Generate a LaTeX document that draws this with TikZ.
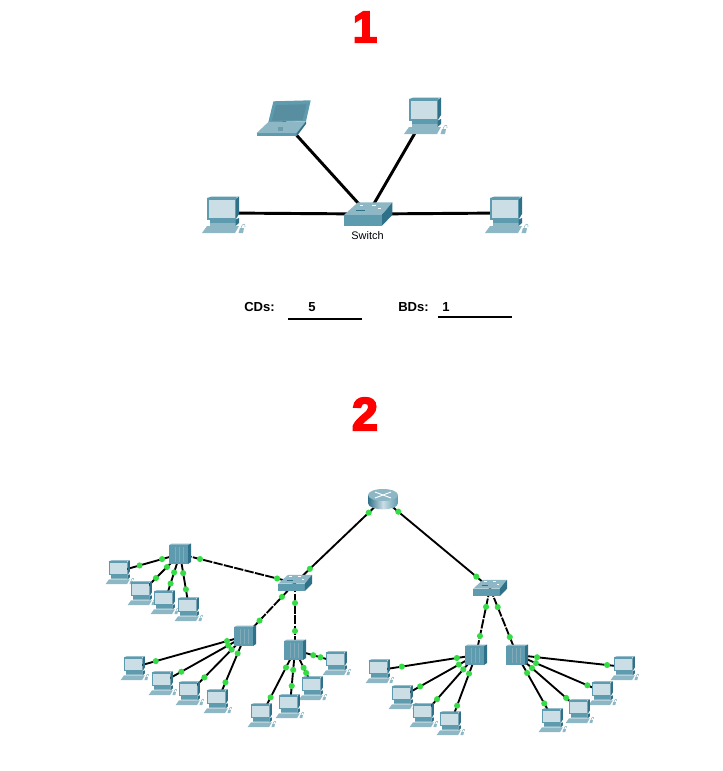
\documentclass[tikz,border=0pt]{standalone}
\usepackage{fontspec}
\setmainfont{Liberation Sans}
\newfontfamily\bignum[UprightFont=* Bold, FakeBold=4]{Liberation Sans}
\usetikzlibrary{calc, backgrounds}
\definecolor{tealmid}{HTML}{5F9BAE}
\definecolor{tealdark}{HTML}{2F7188}
\definecolor{teallite}{HTML}{8DB7C5}
\definecolor{screenlite}{HTML}{CBDDE5}
\definecolor{lampgreen}{HTML}{35DC45}

% icons, drawn round the centre of their node
\newcommand{\pcicon}[1]{
  \begin{scope}[shift={(path picture bounding box.center)}, x=#1*0.75pt, y=-#1*0.75pt]
    \fill[tealdark] (11.5,-14) -- (15,-16.3) -- (15,1) -- (11.5,6.7) -- cycle;
    \fill[tealmid] (-17,-15) -- (-13,-16.3) -- (15,-16.3) -- (11.5,-15) -- cycle;
    \fill[tealmid] (-17,-15) rectangle (11.5,6.7);
    \fill[screenlite] (-15,-12.7) rectangle (10.5,5);
    \fill[tealmid] (-14,6.7) rectangle (11.5,10);
    \fill[teallite] (-14,10) rectangle (11.5,13);
    \fill[tealdark] (11.5,6.7) -- (15,5) -- (15,10) -- (11.5,13) -- cycle;
    \fill[teallite] (-17,13) -- (15,13) -- (11,20) -- (-22,20) -- cycle;
    \fill[teallite] (16,15) -- (20,15) -- (19,20) -- (14.5,20) -- cycle;
    \draw[teallite, line width=.4pt] (17,15) .. controls (18,10) and (22,10) .. (21,14);
  \end{scope}
}
\newcommand{\laptopicon}{
  \begin{scope}[shift={(path picture bounding box.center)}]
    \fill[tealmid] (-7.6,-16.7) -- (29.7,-17.7) -- (25,3.3) -- (-12.6,4) -- cycle;
    \fill[tealdark!80] (-5,-13) -- (25.7,-13.7) -- (21.7,2) -- (-9.3,2.7) -- cycle;
    \fill[teallite] (-12.6,4) -- (25,3.3) -- (15.7,15) -- (-24.3,15) -- cycle;
    \fill[tealmid] (-24.3,15) -- (15.7,15) -- (15.7,18.3) -- (-24.3,18.3) -- cycle;
    \fill[tealdark] (15.7,15) -- (25,3.3) -- (25,6) -- (15.7,18.3) -- cycle;
    \fill[tealdark!70] (-3.3,9) rectangle (1.7,13);
  \end{scope}
}
\newcommand{\switchicon}[1]{
  \begin{scope}[shift={(path picture bounding box.center)}, x=#1*0.75pt, y=-#1*0.75pt]
    \fill[teallite] (-24,1) -- (-10,-11.7) -- (24.3,-11.7) -- (14,1) -- cycle;
    \fill[tealmid] (-24,1) rectangle (14,11.7);
    \fill[tealdark] (14,1) -- (24.3,-11.7) -- (24.3,1) -- (14,11.7) -- cycle;
    \draw[white, line width=.5pt] (-8,-9) -- (-5,-9) (4,-9) -- (8,-9) (10,-5.5) -- (13,-5.5);
    \draw[tealdark, line width=.5pt] (-12,-3.5) -- (-3,-3.5);
  \end{scope}
}
\newcommand{\routericon}{
  \begin{scope}[shift={(path picture bounding box.center)}]
    \shade[left color=tealdark, right color=tealmid, middle color=screenlite]
      (-15,-4) -- (-15,4) .. controls (-15,12.5) and (15,12.5) .. (15,4) -- (15,-4) -- cycle;
    \fill[teallite] (0,-4) ellipse[x radius=15, y radius=6];
    \draw[white, line width=.7pt] (-8,-1) -- (8,-7) (-8,-7) -- (8,-1);
  \end{scope}
}
\newcommand{\hubicon}{
  \begin{scope}[shift={(path picture bounding box.center)}]
    \fill[teallite] (-11,-9) -- (-8,-10.5) -- (11,-10.5) -- (8,-9) -- cycle;
    \fill[tealmid] (-11,-9) rectangle (8,10);
    \fill[tealdark] (8,-9) -- (11,-10.5) -- (11,8) -- (8,10) -- cycle;
    \foreach \stripe in {-5,-1,3} {
      \draw[tealdark!60, line width=.3pt] (\stripe,-7) -- (\stripe,8);
    }
  \end{scope}
}

\tikzset{
  pc/.style={rectangle, inner sep=0pt, minimum width=#1*36pt, minimum height=#1*32pt, path picture={\pcicon{#1}}},
  laptop/.style={rectangle, inner sep=0pt, minimum width=46pt, minimum height=29pt, path picture={\laptopicon}},
  switch/.style={rectangle, inner sep=0pt, minimum width=#1*38pt, minimum height=#1*19pt, path picture={\switchicon{#1}}},
  router/.style={rectangle, inner sep=0pt, minimum width=24pt, minimum height=18pt, path picture={\routericon}},
  hub/.style={rectangle, inner sep=0pt, minimum width=17pt, minimum height=16pt, path picture={\hubicon}},
  lamp/.style={circle, fill=lampgreen, inner sep=0pt, minimum size=4.6pt},
  link/.style={draw=black, line width=1.4pt},
  xlink/.style={draw=black, line width=1.4pt, dash pattern=on 7pt off 1pt},
  thicklink/.style={draw=black, line width=2.2pt},
  label/.style={font=\fontsize{9.8}{10}\selectfont\bfseries, inner sep=0pt}
}

\begin{document}
\begin{tikzpicture}[x=0.75pt, y=-0.75pt]
  \useasboundingbox (0,0) rectangle (722,771);

  % network 1
  \node (one) [text=red, inner sep=0pt, font=\fontsize{33}{33}\selectfont\bignum] at (365,27) {1};
  \node (sw) [switch=1] at (368,214) {};
  \node (nb) [laptop] at (281,118) {};
  \node (pcT) [pc=1] at (426,114) {};
  \node (pcL) [pc=1] at (224,213) {};
  \node (pcR) [pc=1] at (507,213) {};
  \node (swname) [inner sep=0pt, font=\fontsize{8.2}{9}\selectfont] at (367.5,236) {Switch};
  \begin{scope}[on background layer]
    \draw [thicklink] (sw.center) -- (nb.center);
    \draw [thicklink] (sw.center) -- (pcT.center);
    \draw [thicklink] (sw.center) -- (pcL.center);
    \draw [thicklink] (sw.center) -- (pcR.center);
  \end{scope}

  \node (cds) [label, anchor=west] at (244,307) {CDs:};
  \node (cdval) [label] at (312,307) {5};
  \node (bds) [label, anchor=west] at (398,307) {BDs:};
  \node (bdval) [label] at (446,307) {1};
  \coordinate (cdA) at (288,319);
  \coordinate (cdB) at (362,319);
  \coordinate (bdA) at (438,317);
  \coordinate (bdB) at (512,317);
  \draw [line width=2.2pt] (cdA) -- (cdB);
  \draw [line width=2.2pt] (bdA) -- (bdB);

  % network 2
  \node (two) [text=red, inner sep=0pt, font=\fontsize{35}{35}\selectfont\bignum] at (365,414) {2};
  \node (rtr) [router] at (383,499) {};
  \node (swL) [switch=0.7] at (295,583) {};
  \node (swR) [switch=0.7] at (490,588) {};
  \node (hubA) [hub] at (180,554) {};
  \node (hubB) [hub] at (245,636) {};
  \node (hubC) [hub] at (295,650) {};
  \node (hubD) [hub] at (476,655) {};
  \node (hubE) [hub] at (517,655) {};

  \foreach \name/\x/\y in {pcA1/120/571, pcA2/142/592, pcA3/165/601, pcA4/189/608,
    pcB1/135/667, pcB2/163/682, pcB3/190/692, pcB4/218/700,
    pcC1/337/662, pcC2/313/687, pcC3/290/705, pcC4/262/714,
    pcD1/380/670, pcD2/403/696, pcD3/424/714, pcD4/451/722,
    pcE1/625/667, pcE2/603/692, pcE3/580/710, pcE4/553/719} {
    \node (\name) [pc=0.65] at (\x,\y) {};
  }

  \foreach \a/\b/\kind/\xa/\ya/\xb/\yb in {
    rtr/swL/link/369/513/310/569, rtr/swR/link/398/512/476/577,
    swL/hubA/xlink/277/579/200/559, swL/hubB/xlink/282/597/260/621,
    swL/hubC/xlink/296/603/296/631, swR/hubD/xlink/487/607/480/636,
    swR/hubE/xlink/498/607/510/637,
    hubA/pcA1/link/162/559/140/567, hubA/pcA2/link/168/568/157/579,
    hubA/pcA3/link/176/573/172/584, hubA/pcA4/link/184/573/188/589,
    hubB/pcB1/link/227/641/156/662, hubB/pcB2/link/229/647/182/673,
    hubB/pcB3/link/233/651/206/679, hubB/pcB4/link/239/654/227/683,
    hubC/pcC1/link/313/656/320/659, hubC/pcC2/link/303/668/306/673,
    hubC/pcC3/link/294/670/293/686, hubC/pcC4/link/287/668/272/698,
    hubD/pcD1/link/457/659/402/668, hubD/pcD2/link/459/665/421/688,
    hubD/pcD3/link/464/670/438/700, hubD/pcD4/link/470/674/458/706,
    hubE/pcE1/link/537/658/607/666, hubE/pcE2/link/536/663/587/686,
    hubE/pcE3/link/532/668/566/698, hubE/pcE4/link/527/673/545/703} {
    \begin{scope}[on background layer]
      \draw [\kind] (\a.center) -- (\b.center);
    \end{scope}
    \node (\a\b near) [lamp] at ($(\a.center)!(\xa,\ya)!(\b.center)$) {};
    \node (\a\b far) [lamp] at ($(\a.center)!(\xb,\yb)!(\b.center)$) {};
  }
\end{tikzpicture}
\end{document}
